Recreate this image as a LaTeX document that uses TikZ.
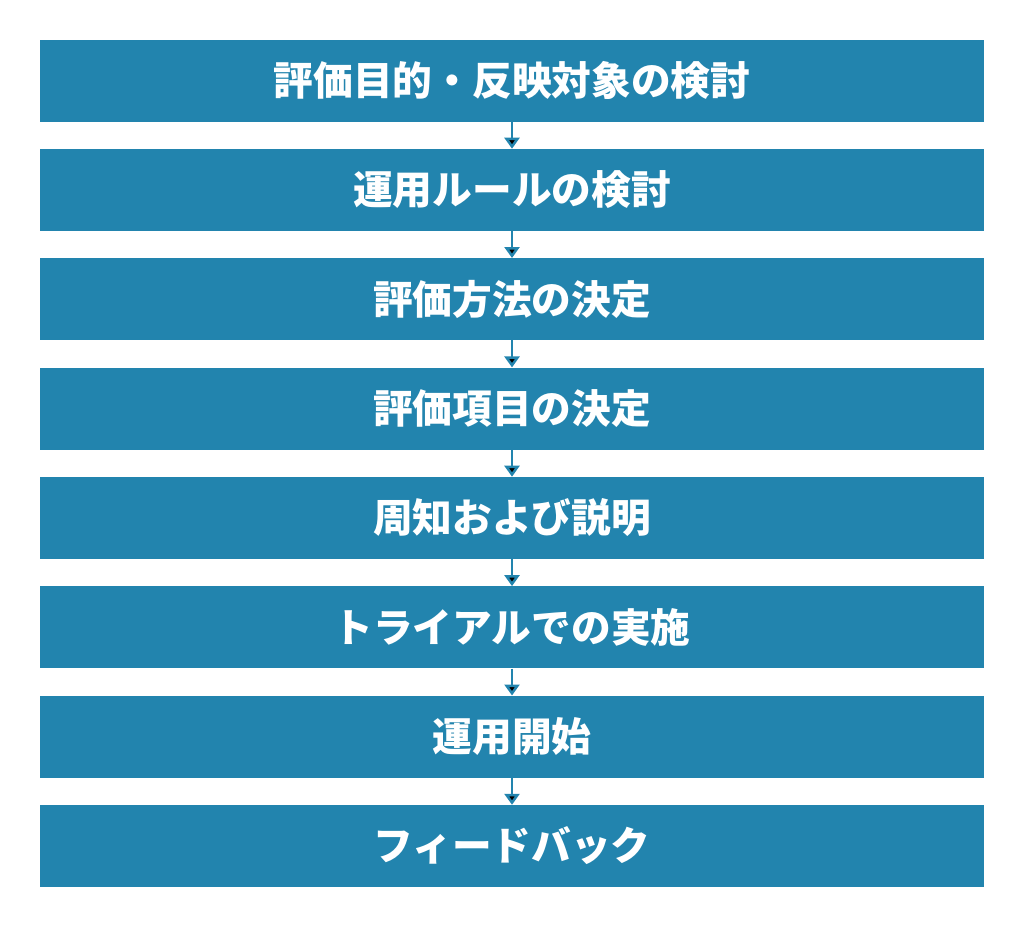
\documentclass[tikz,border=0pt]{standalone}
\usepackage{fontspec}
\newfontfamily\jpfont{Noto Sans CJK JP}
\usepackage{xcolor}
\usepackage{tikz}
\usetikzlibrary{arrows.meta}
\definecolor{stepblue}{RGB}{34,132,174}

\begin{document}
\begin{tikzpicture}[x=1pt,y=-1pt,
    stepbox/.style={shape=rectangle,fill=stepblue,minimum width=944pt,minimum height=82pt,inner sep=0pt,text=white,font=\jpfont\bfseries\fontsize{39.7pt}{42pt}\selectfont},
    steparrow/.style={draw=stepblue,line width=2.5pt,-{Triangle[width=15pt,length=11pt]}}]
        \useasboundingbox (0,0) rectangle (1024,927);
        \node[stepbox] (A) at (512,80.5){評価目的・反映対象の検討};
        \node[stepbox] (B) at (512,189.9){運用ルールの検討};
        \node[stepbox] (C) at (512,299.2){評価方法の決定};
        \node[stepbox] (D) at (512,408.6){評価項目の決定};
        \node[stepbox] (E) at (512,517.9){周知および説明};
        \node[stepbox] (F) at (512,627.3){トライアルでの実施};
        \node[stepbox] (G) at (512,736.7){運用開始};
        \node[stepbox] (H) at (512,846.0){フィードバック};
        \path [steparrow](A) edge (B);
        \path [steparrow](B) edge (C);
        \path [steparrow](C) edge (D);
        \path [steparrow](D) edge (E);
        \path [steparrow](E) edge (F);
        \path [steparrow](F) edge (G);
        \path [steparrow](G) edge (H);
    \end{tikzpicture}
\end{document}
